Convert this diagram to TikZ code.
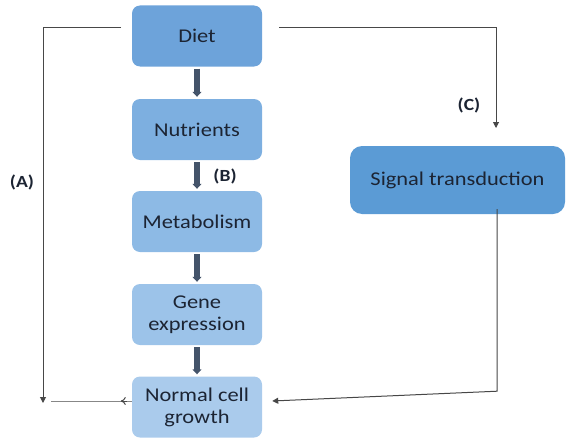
\documentclass[tikz,border=0pt]{standalone}
\usepackage{fontspec}
\setmainfont{Carlito}[FakeStretch=1.15]
\usetikzlibrary{arrows.meta}
\definecolor{dietblue}{HTML}{6DA3DA}
\definecolor{nutblue}{HTML}{7DAFE0}
\definecolor{metblue}{HTML}{8DBAE5}
\definecolor{geneblue}{HTML}{9CC3E9}
\definecolor{growblue}{HTML}{AACBEC}
\definecolor{sigblue}{HTML}{5B9BD5}
\definecolor{slate}{HTML}{44546A}
\definecolor{txt}{HTML}{1C2433}
\begin{document}
\begin{tikzpicture}[x=1pt,y=-1pt,
    fat/.style={line width=5.5pt,color=slate,-{Triangle[width=9pt,length=5pt]},shorten <=2pt,shorten >=2pt},
    thin/.style={line width=1pt,color=black!72}]
    \tikzstyle{stage}=[rounded corners=8pt,minimum width=130pt,minimum height=61pt,inner sep=2pt,
        align=center,text=txt,font=\fontsize{19.5}{22}\selectfont]
    \tikzstyle{tag}=[text=txt,font=\fontsize{17}{19}\selectfont\bfseries]

    \useasboundingbox (0,0) rectangle (569,444);

    \node[stage,fill=dietblue] (diet) at (197,36) {Diet};
    \node[stage,fill=nutblue] (nutr) at (197,129.5) {Nutrients};
    \node[stage,fill=metblue] (meta) at (197,221.5) {Metabolism};
    \node[stage,fill=geneblue] (gene) at (197,314.5) {Gene\\expression};
    \node[stage,fill=growblue] (grow) at (197,407) {Normal cell\\growth};
    \node[stage,fill=sigblue,rounded corners=12pt,minimum width=215pt,minimum height=68pt] (sig) at (457.5,180) {Signal transduction};

    \draw[fat] (diet) -- (nutr);
    \draw[fat] (nutr) -- (meta);
    \draw[fat] (meta) -- (gene);
    \draw[fat] (gene) -- (grow);

    \coordinate (a1) at (121,28);
    \coordinate (a2) at (43,403);
    \coordinate (a3) at (51,401);
    \coordinate (c1) at (279,28);
    \coordinate (c2) at (496,128);

    \draw[thin,-{Triangle[width=6pt,length=6pt]}] (a1) -- (a1 -| a2) -- (a2);
    \draw[thin,-{To[width=8pt,length=5pt]}] (a3) -- (a3 -| grow.west) -- ++(-11,0);
    \draw[thin,-{Triangle[width=6pt,length=6pt]}] (c1) -- (c1 -| c2) -- (c2);
    \draw[thin,-{Triangle[width=6pt,length=6pt]}] ([xshift=39.5pt,yshift=5pt]sig.south) -- ++(0,182) -- ([xshift=10pt]grow.east |- 0,401);

    \node[tag] (la) at (22,182) {(A)};
    \node[tag] (lb) at (225,176) {(B)};
    \node[tag] (lc) at (469,105) {(C)};
\end{tikzpicture}
\end{document}
